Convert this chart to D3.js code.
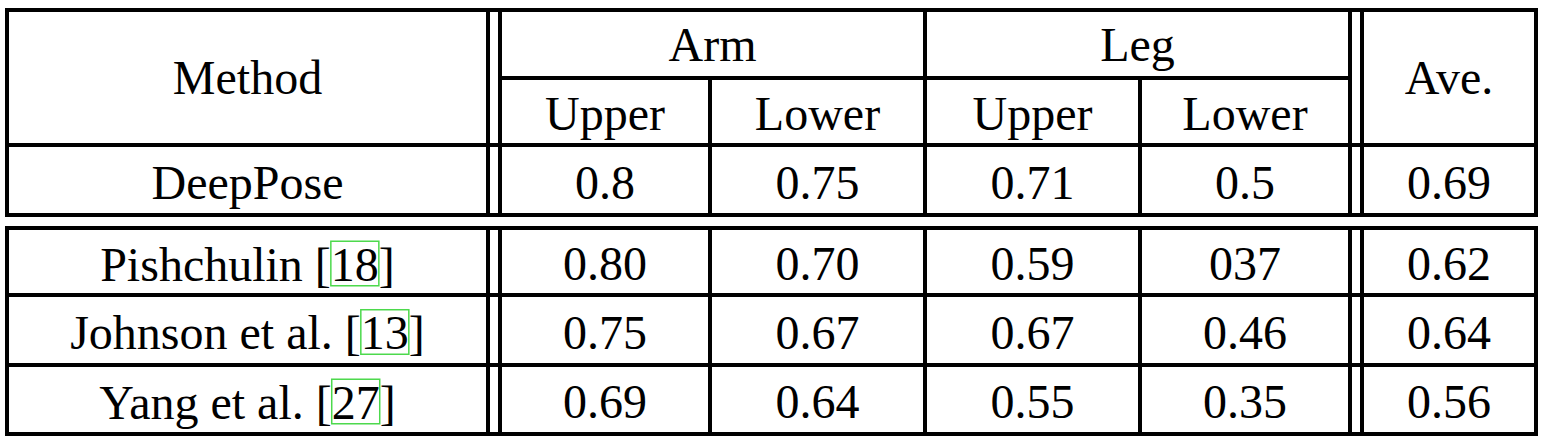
<!DOCTYPE html>
<html><head><meta charset="utf-8">
<script src="https://cdn.jsdelivr.net/npm/d3@7"></script>
<style>body{margin:0;background:#fff}text{font-family:"Liberation Serif","Times New Roman","DejaVu Serif",serif;font-size:48px;fill:#000}</style>
</head><body><svg id="c" width="1545" height="447"></svg>
<script>
const groups = ["Arm", "Leg"];
const subCols = ["Upper", "Lower", "Upper", "Lower"];
const methods = ["DeepPose", "Pishchulin", "Johnson et al.", "Yang et al."];
const cites = [null, "18", "13", "27"];
const armUpper = ["0.8", "0.80", "0.75", "0.69"];
const armLower = ["0.75", "0.70", "0.67", "0.64"];
const legUpper = ["0.71", "0.59", "0.67", "0.55"];
const legLower = ["0.5", "037", "0.46", "0.35"];
const ave = ["0.69", "0.62", "0.64", "0.56"];

const svg = d3.select("#c");
const colEdge = d3.scaleOrdinal().domain(["L","M","A1","A2","L1","L2","V","R"])
  .range([7, 488, 500, 710, 925, 1140, 1350, 1536]);
const avL = 1362;
const rowY = d3.scaleOrdinal().domain(["t","h","hb","r0b","g","r1b","r2b","r3b"])
  .range([10, 78, 145, 215, 228, 295, 365, 434]);
const lw = 4;
function line(x1,y1,x2,y2){svg.append("line").attr("x1",x1).attr("y1",y1).attr("x2",x2).attr("y2",y2).attr("stroke","#000").attr("stroke-width",lw).attr("stroke-linecap","square");}
function txt(s,x,y){return svg.append("text").attr("x",x).attr("y",y).attr("text-anchor","middle").attr("dominant-baseline","central").text(s);}

const L=colEdge("L"),M=colEdge("M"),A1=colEdge("A1"),V=colEdge("V"),R=colEdge("R");
const blocks=[[rowY("t"),rowY("r0b")],[rowY("g"),rowY("r3b")]];
blocks.forEach(([y0,y1])=>{
  line(L,y0,R,y0); line(L,y1,R,y1);
  [L,M,A1,V,avL,R].forEach(x=>line(x,y0,x,y1));
});
line(A1,rowY("h"),V,rowY("h"));
line(L,rowY("hb"),R,rowY("hb"));
line(colEdge("L1"),rowY("t"),colEdge("L1"),rowY("r0b"));
[colEdge("A2"),colEdge("L2")].forEach(x=>line(x,rowY("h"),x,rowY("r0b")));
[colEdge("A2"),colEdge("L1"),colEdge("L2")].forEach(x=>line(x,rowY("g"),x,rowY("r3b")));
[rowY("r1b"),rowY("r2b")].forEach(y=>line(L,y,R,y));

txt("Method",(L+M)/2,(rowY("t")+rowY("hb"))/2);
txt("Ave.",(avL+R)/2,(rowY("t")+rowY("hb"))/2);
txt(groups[0],(A1+colEdge("L1"))/2,(rowY("t")+rowY("h"))/2);
txt(groups[1],(colEdge("L1")+V)/2,(rowY("t")+rowY("h"))/2);
const subEdges=[A1,colEdge("A2"),colEdge("L1"),colEdge("L2"),V];
subCols.forEach((s,i)=>txt(s,(subEdges[i]+subEdges[i+1])/2,(rowY("h")+rowY("hb"))/2+2));

const rowCenters=[[rowY("hb"),rowY("r0b")],[rowY("g"),rowY("r1b")],[rowY("r1b"),rowY("r2b")],[rowY("r2b"),rowY("r3b")]].map(([a,b])=>(a+b)/2+2);
const cols=[armUpper,armLower,legUpper,legLower];
methods.forEach((m,r)=>{
  const cy=rowCenters[r];
  if(!cites[r]) txt(m,(L+M)/2,cy);
  else{
    const t=svg.append("text").attr("x",(L+M)/2).attr("y",cy).attr("text-anchor","middle").attr("dominant-baseline","central");
    t.append("tspan").text(m+" [");
    const ts=t.append("tspan").text(cites[r]);
    t.append("tspan").text("]");
    const n=ts.node(); const st=n.getStartPositionOfChar(0).x, en=n.getEndPositionOfChar(cites[r].length-1).x;
    const bb=t.node().getBBox();
    svg.append("rect").attr("x",st).attr("y",bb.y+bb.height*0.08).attr("width",en-st).attr("height",bb.height*0.84)
      .attr("fill","none").attr("stroke","#4cd94c").attr("stroke-width",1.5);
  }
  cols.forEach((c,i)=>txt(c[r],(subEdges[i]+subEdges[i+1])/2,cy));
  txt(ave[r],(avL+R)/2,cy);
});
</script></body></html>
